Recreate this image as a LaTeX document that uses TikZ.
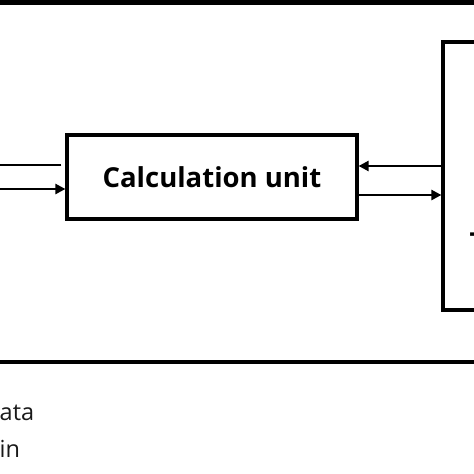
\documentclass[tikz,border=0pt]{standalone}
\usepackage{fontspec}
\setmainfont{Open Sans}
\usetikzlibrary{arrows.meta}
\begin{document}
\begin{tikzpicture}[x=1pt,y=-1pt,
  blockbox/.style={draw=black,line width=3.2pt,fill=white,inner sep=0pt},
  conn/.style={draw=black,line width=2.4pt},
  arr/.style={conn,-{Triangle[length=10pt,width=10pt]}},
  rule/.style={draw=black,line width=4.5pt},
  lbl/.style={inner sep=0pt,anchor=base west,font=\fontsize{23.5}{28}\selectfont,text=black!90}]
\useasboundingbox (0,0) rectangle (474,474);
\clip (0,0) rectangle (474,474);
\fill[white] (0,0) rectangle (474,474);
% horizontal rules
\coordinate (tl) at (0,2.5);
\coordinate (tr) at (474,2.5);
\coordinate (ml) at (0,362);
\coordinate (mr) at (474,362);
\draw[rule] (tl) -- (tr);
\draw[rule] (ml) -- (mr);
% blocks
\node[blockbox,minimum width=290pt,minimum height=84pt] (calc) at (212,177)
  {\fontsize{27.5}{32}\selectfont\bfseries Calculation unit};
\node[blockbox,minimum width=80pt,minimum height=268pt] (sys) at (483,176) {};
\node[inner sep=0pt,anchor=base west,font=\fontsize{27.5}{32}\selectfont\bfseries] (sysT) at (469.5,252) {T};
% left connectors
\coordinate (in1) at (0,165);
\coordinate (in2) at (0,189);
\draw[conn,shorten <=4pt] (calc.west |- in1) -- (in1);
\draw[arr] (in2) -- (calc.west |- in2);
% right connectors
\coordinate (r1) at (0,166);
\coordinate (r2) at (0,195);
\draw[arr] (sys.west |- r1) -- (calc.east |- r1);
\draw[arr] (calc.east |- r2) -- (sys.west |- r2);
% legend fragments
\node[lbl] (leg1) at (-0.5,420) {ata};
\node[lbl] (leg2) at (-0.5,457) {in};
\end{tikzpicture}
\end{document}
